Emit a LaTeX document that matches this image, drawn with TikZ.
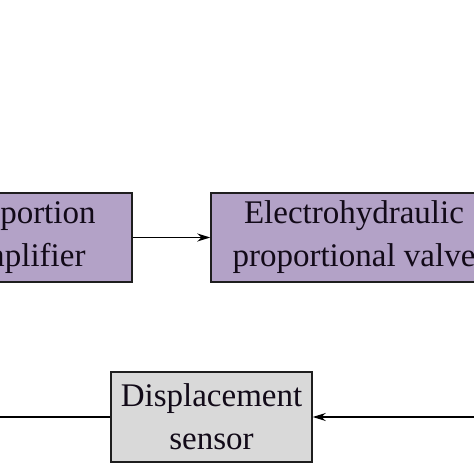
\documentclass[tikz,border=0pt]{standalone}
\usepackage{fontspec}
\setmainfont{Liberation Serif}
\usetikzlibrary{arrows.meta}
\definecolor{boxpurple}{HTML}{B3A2C7}
\definecolor{boxgray}{HTML}{D9D9D9}
\definecolor{edgecol}{HTML}{1E1E1E}
\definecolor{textcol}{HTML}{120A18}
\tikzset{
  blockbox/.style={draw=edgecol, line width=1.5pt, align=center, inner sep=0pt,
    font=\fontsize{33}{43}\selectfont, text=textcol},
  purplebox/.style={blockbox, fill=boxpurple},
  graybox/.style={blockbox, fill=boxgray},
  conn/.style={draw=black, line width=1.3pt},
  arrowconn/.style={conn, -{Stealth[length=13pt,width=8pt]}}
}
\begin{document}
\begin{tikzpicture}[x=1pt,y=1pt]
\useasboundingbox (0,0) rectangle (474,474);
\clip (0,0) rectangle (474,474);
\fill[white] (0,0) rectangle (474,474);
\node[purplebox, minimum width=214pt, minimum height=89pt] (amp) at (25,236.5) {Proportion\\amplifier};
\node[purplebox, minimum width=286pt, minimum height=89pt] (valve) at (354,236.5) {Electrohydraulic\\proportional valve};
\node[graybox, minimum width=201pt, minimum height=90pt] (sensor) at (211.5,57) {Displacement\\sensor};
\coordinate (leftend) at (-20,57);
\coordinate (rightend) at (500,57);
\draw[arrowconn] (amp.east) -- (valve.west);
\draw[arrowconn] (rightend) -- (sensor.east);
\draw[conn] (sensor.west) -- (leftend);
\end{tikzpicture}
\end{document}
